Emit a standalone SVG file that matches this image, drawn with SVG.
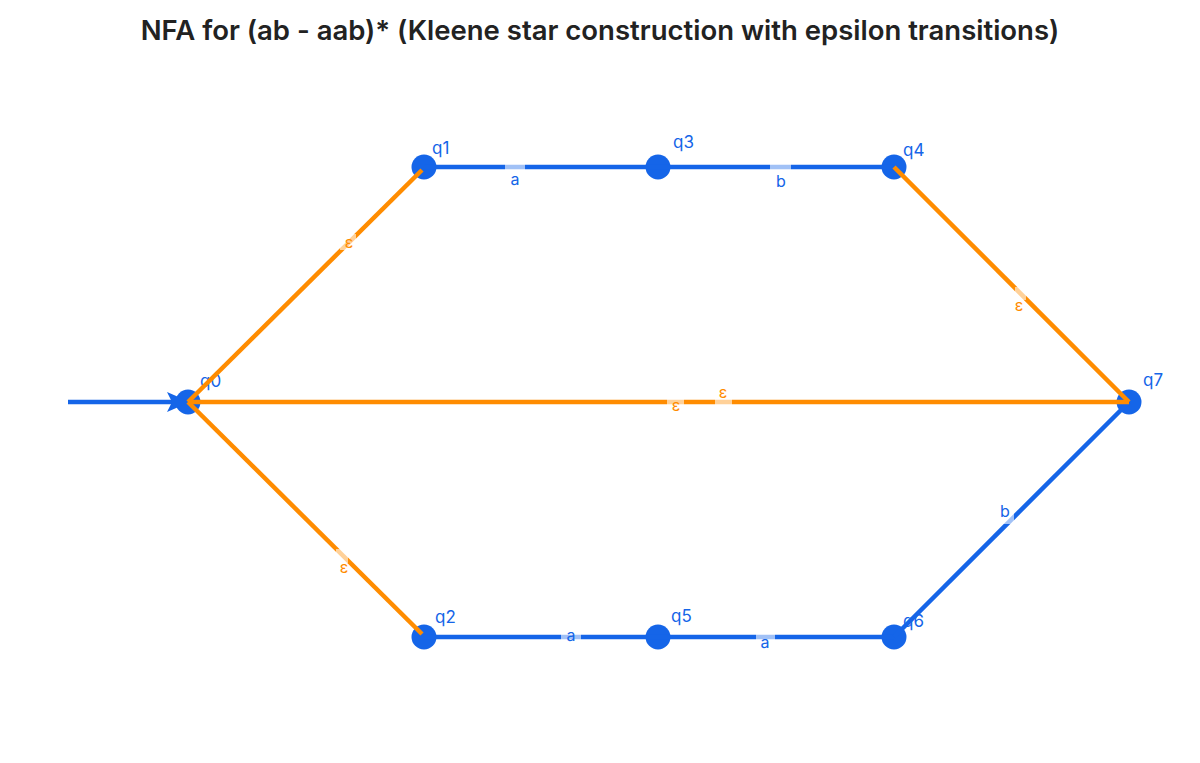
<svg xmlns="http://www.w3.org/2000/svg" width="1200" height="763" viewBox="0 0 1200 763">
<style>
.title{font-family:Inter,"Open Sans","Liberation Sans",sans-serif;font-weight:600;font-size:27.5px;fill:#222;}
.node{fill:#1565e8;}
.nl{font-family:Inter,"Liberation Sans",sans-serif;font-size:17px;fill:#1565e8;}
.eb{stroke:#1565e8;stroke-width:4.5;fill:none;}
.eo{stroke:#ff8c00;stroke-width:4.5;fill:none;}
.bg{fill:#ffffff;fill-opacity:0.6;}
.lb{font-family:Inter,"Liberation Sans",sans-serif;font-size:16px;fill:#1565e8;text-anchor:middle;}
.lo{font-family:Inter,"Liberation Sans",sans-serif;font-size:16px;fill:#ff8c00;text-anchor:middle;}
</style>
<rect width="1200" height="763" fill="#ffffff"/>
<text class="title" x="600" y="40" text-anchor="middle">NFA for (ab - aab)* (Kleene star construction with epsilon transitions)</text>

<g id="q0"><circle class="node" cx="188" cy="402" r="12.5"/><text class="nl" x="200" y="387">q0</text></g>
<g id="q1"><circle class="node" cx="424" cy="167" r="12.5"/><text class="nl" x="432" y="154">q1</text></g>
<g id="q3"><circle class="node" cx="658" cy="167" r="12.5"/><text class="nl" x="673" y="148">q3</text></g>
<g id="q4"><circle class="node" cx="894" cy="167" r="12.5"/><text class="nl" x="903" y="156">q4</text></g>
<g id="q7"><circle class="node" cx="1129" cy="402" r="12.5"/><text class="nl" x="1143" y="386">q7</text></g>
<g id="q2"><circle class="node" cx="424" cy="637" r="12.5"/><text class="nl" x="435" y="623">q2</text></g>
<g id="q5"><circle class="node" cx="658" cy="637" r="12.5"/><text class="nl" x="671" y="622">q5</text></g>
<g id="q6"><circle class="node" cx="894" cy="637" r="12.5"/><text class="nl" x="903" y="627">q6</text></g>

<g id="connectors">
<line class="eb" x1="68" y1="402" x2="172" y2="402"/>
<path d="M167,392 L190,402 L167,412 L172,402 Z" fill="#1565e8"/>
<line class="eb" x1="424" y1="167" x2="658" y2="167"/>
<line class="eb" x1="658" y1="167" x2="894" y2="167"/>
<line class="eb" x1="424" y1="637" x2="658" y2="637"/>
<line class="eb" x1="658" y1="637" x2="894" y2="637"/>
<line class="eb" x1="894" y1="637" x2="1129" y2="402"/>
<line class="eo" x1="188" y1="402" x2="422" y2="170"/>
<line class="eo" x1="188" y1="402" x2="422" y2="634"/>
<line class="eo" x1="894" y1="167" x2="1129" y2="402"/>
<line class="eo" x1="188" y1="402" x2="1129" y2="402"/>

<rect class="bg" x="505" y="160" width="20" height="14"/><text class="lb" x="515" y="185">a</text>
<rect class="bg" x="770" y="160" width="21" height="14"/><text class="lb" x="781" y="187">b</text>
<rect class="bg" x="561" y="630" width="20" height="14"/><text class="lb" x="571" y="641">a</text>
<rect class="bg" x="756" y="630" width="19" height="14"/><text class="lb" x="765" y="648">a</text>
<rect class="bg" x="1003" y="513" width="11" height="11"/><text class="lb" x="1005" y="517">b</text>
<rect class="bg" x="667" y="396" width="17" height="12"/><text class="lo" x="676" y="411">ε</text>
<rect class="bg" x="715" y="396" width="17" height="12"/><text class="lo" x="723" y="398">ε</text>
<rect class="bg" x="340" y="234" width="16" height="16"/><text class="lo" x="349" y="248">ε</text>
<rect class="bg" x="336" y="549" width="12" height="14"/><text class="lo" x="344" y="573">ε</text>
<rect class="bg" x="1015" y="287" width="11" height="13"/><text class="lo" x="1019" y="311">ε</text>
</g>
</svg>
